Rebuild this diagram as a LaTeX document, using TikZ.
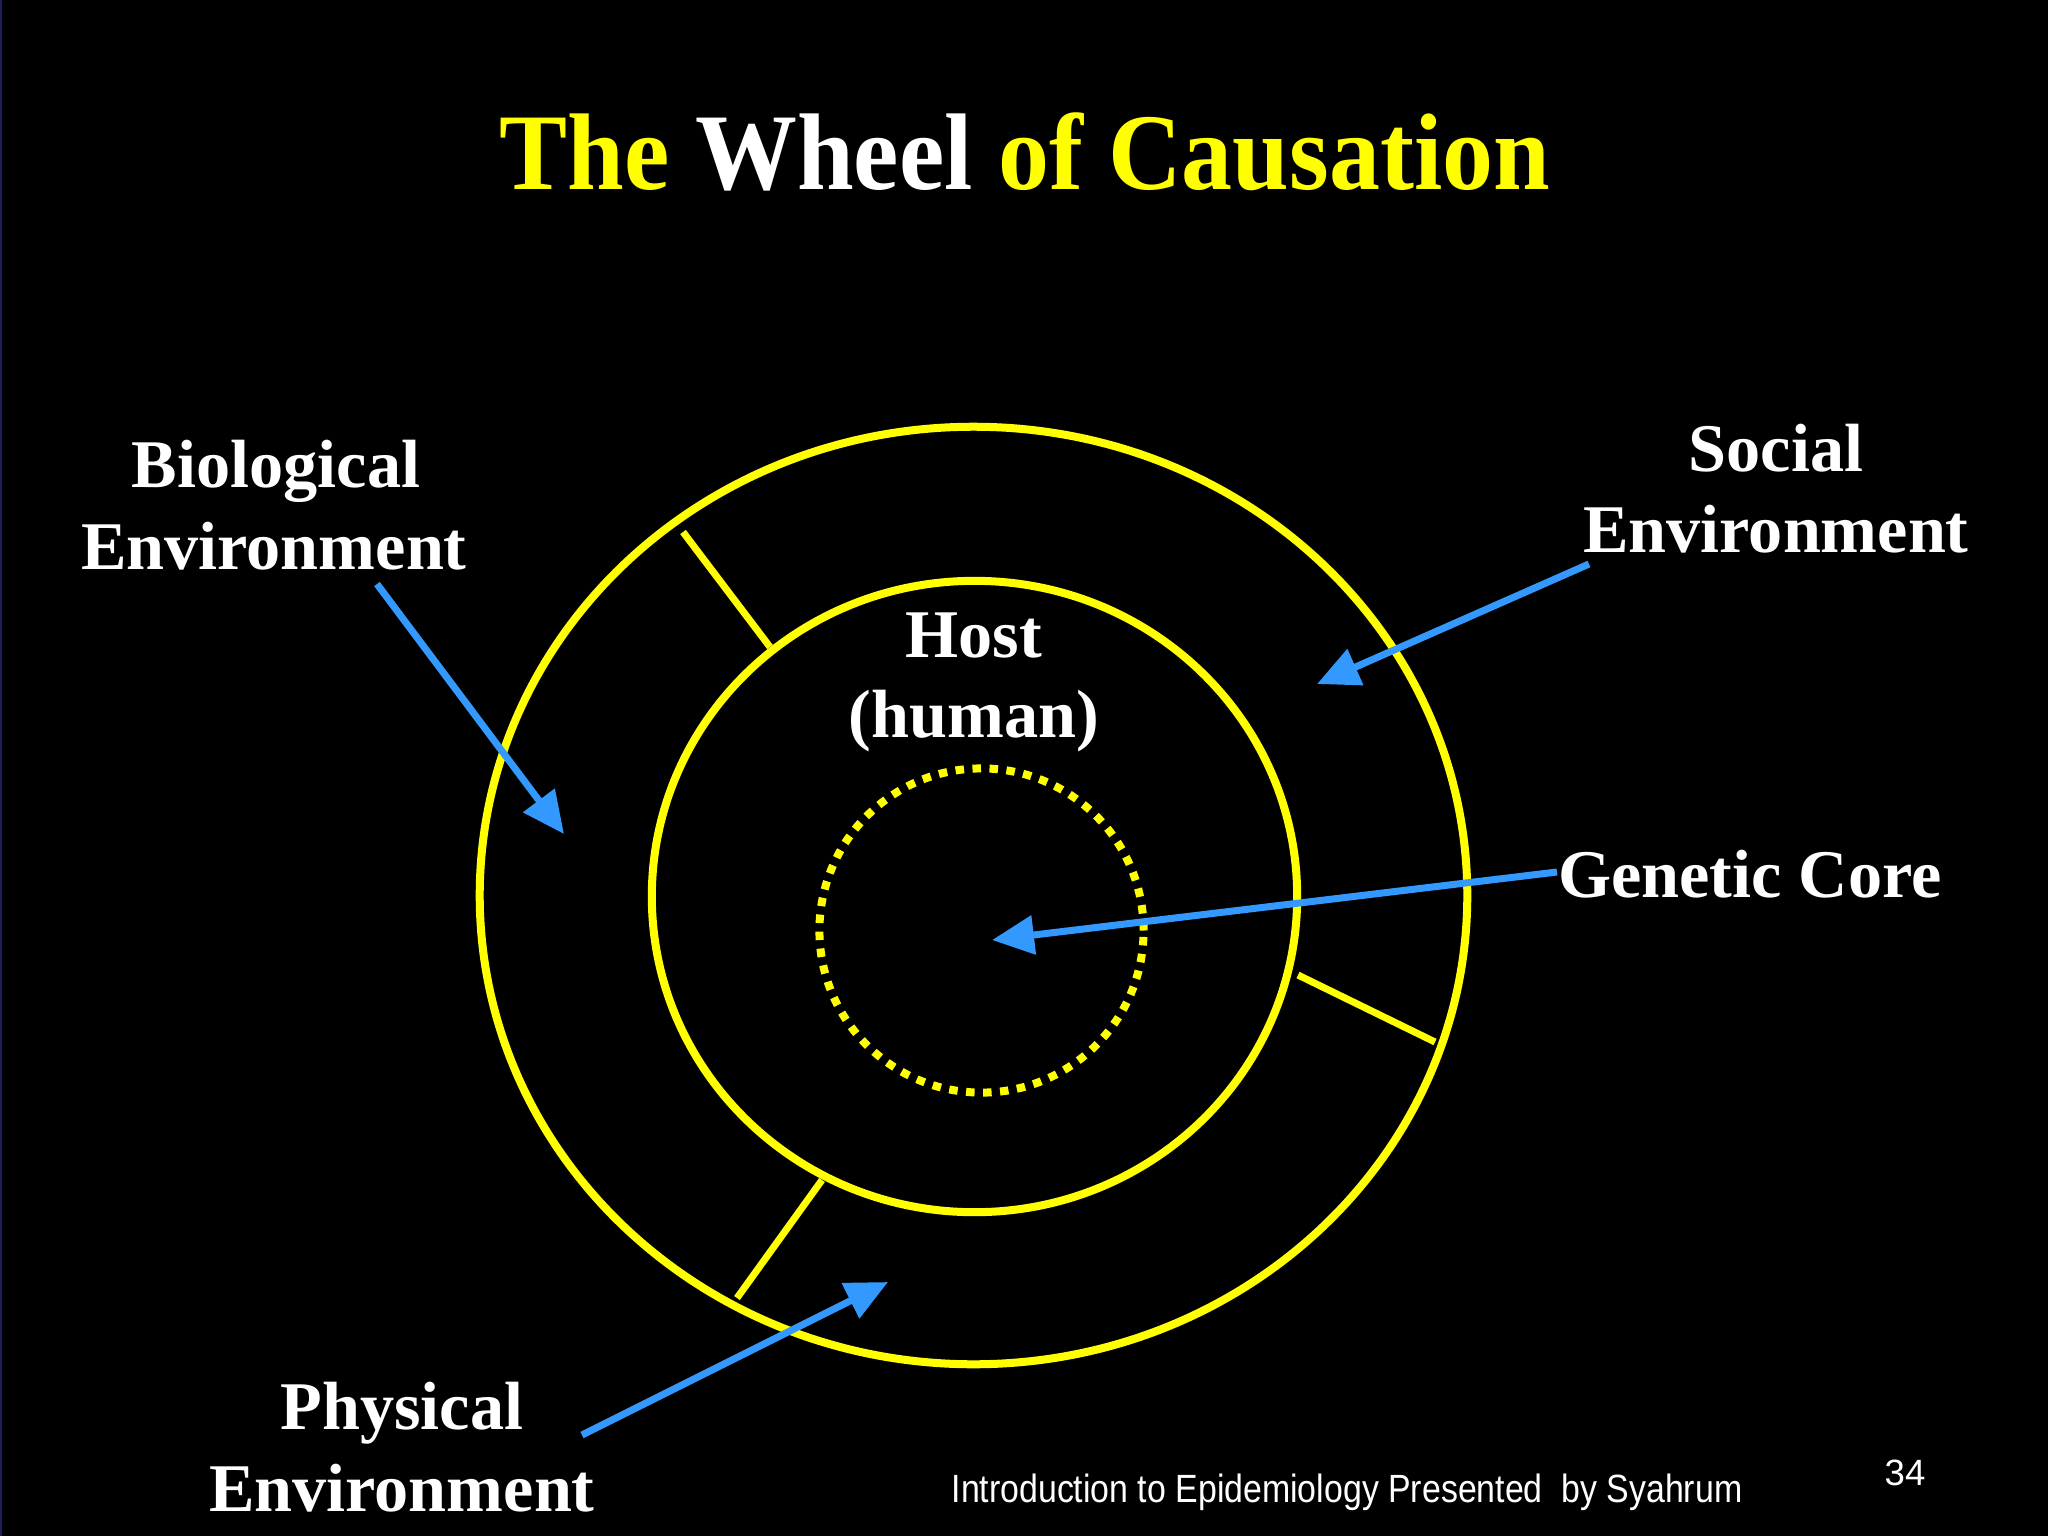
\documentclass[tikz,border=0pt]{standalone}
\usepackage{fontspec}
\setmainfont{Liberation Serif}
\newfontfamily\arialf{Liberation Sans}
\usetikzlibrary{arrows.meta}
\definecolor{wyellow}{RGB}{255,255,0}
\definecolor{wblue}{RGB}{51,153,255}
\definecolor{edgeblue}{RGB}{30,30,90}
\tikzset{
  ring/.style={draw=wyellow, line width=0.08cm},
  dotring/.style={draw=wyellow, line width=0.08cm, dash pattern=on 0.085cm off 0.085cm},
  spoke/.style={draw=wyellow, line width=0.07cm},
  pointer/.style={draw=wblue, line width=0.07cm, -{Triangle[length=4.2mm,width=3.8mm]}, fill=wblue},
  lbl/.style={text=white, font=\fontsize{19.4pt}{23pt}\selectfont\bfseries, anchor=base, inner sep=0pt},
  foot/.style={text=white, font=\fontsize{11.2pt}{13pt}\selectfont\arialf, anchor=base, inner sep=0pt}
}
\begin{document}
\begin{tikzpicture}[x=0.01cm,y=-0.01cm]
\useasboundingbox (0,0) rectangle (2048,1536);
\fill[black] (0,0) rectangle (2048,1536);
\draw[edgeblue, line width=0.02cm] (1,0) -- (1,1536);

% title
\node[anchor=base, inner sep=0pt, font=\fontsize{31pt}{36pt}\selectfont\bfseries] (title) at (1025,189)
  {\scalebox{0.935}[1]{\textcolor{wyellow}{The} \textcolor{white}{Wheel} \textcolor{wyellow}{of Causation}}};

% wheel
\draw[ring] (973.5,895.5) ellipse [x radius=4.935cm, y radius=4.685cm];
\draw[ring] (974.5,896.5) ellipse [x radius=3.225cm, y radius=3.155cm];
\draw[dotring] (981.5,930.5) circle [radius=1.62cm];
\coordinate (s1a) at (683,532);  \coordinate (s1b) at (770,647);
\coordinate (s2a) at (1298,975); \coordinate (s2b) at (1435,1042);
\coordinate (s3a) at (822,1180); \coordinate (s3b) at (737,1298);
\draw[spoke] (s1a) -- (s1b);
\draw[spoke] (s2a) -- (s2b);
\draw[spoke] (s3a) -- (s3b);

% labels
\node[lbl] (bio1) at (276,487) {Biological};
\node[lbl] (bio2) at (274,569) {Environment};
\node[lbl] (soc1) at (1776,471) {Social};
\node[lbl] (soc2) at (1776,552) {Environment};
\node[lbl] (host1) at (974,657) {Host};
\node[lbl] (host2) at (974,737) {(human)};
\node[lbl] (gen) at (1750,897) {Genetic Core};
\node[lbl] (phy1) at (402,1429) {Physical};
\node[lbl] (phy2) at (402,1511) {Environment};

% arrows
\coordinate (bioT) at (377,584);  \coordinate (bioH) at (564,834);
\coordinate (socT) at (1589,564); \coordinate (socH) at (1317,684);
\coordinate (genT) at (1557,872); \coordinate (genH) at (992,940);
\coordinate (phyT) at (582,1435); \coordinate (phyH) at (888,1282);
\draw[pointer] (bioT) -- (bioH);
\draw[pointer] (socT) -- (socH);
\draw[pointer] (genT) -- (genH);
\draw[pointer] (phyT) -- (phyH);

% footer
\node[foot] (footer) at (1347,1502) {\scalebox{0.86}[1]{Introduction to Epidemiology Presented\ \ by Syahrum}};
\node[foot, font=\fontsize{10.4pt}{12pt}\selectfont\arialf] (pagenum) at (1905,1485) {34};
\end{tikzpicture}
\end{document}
